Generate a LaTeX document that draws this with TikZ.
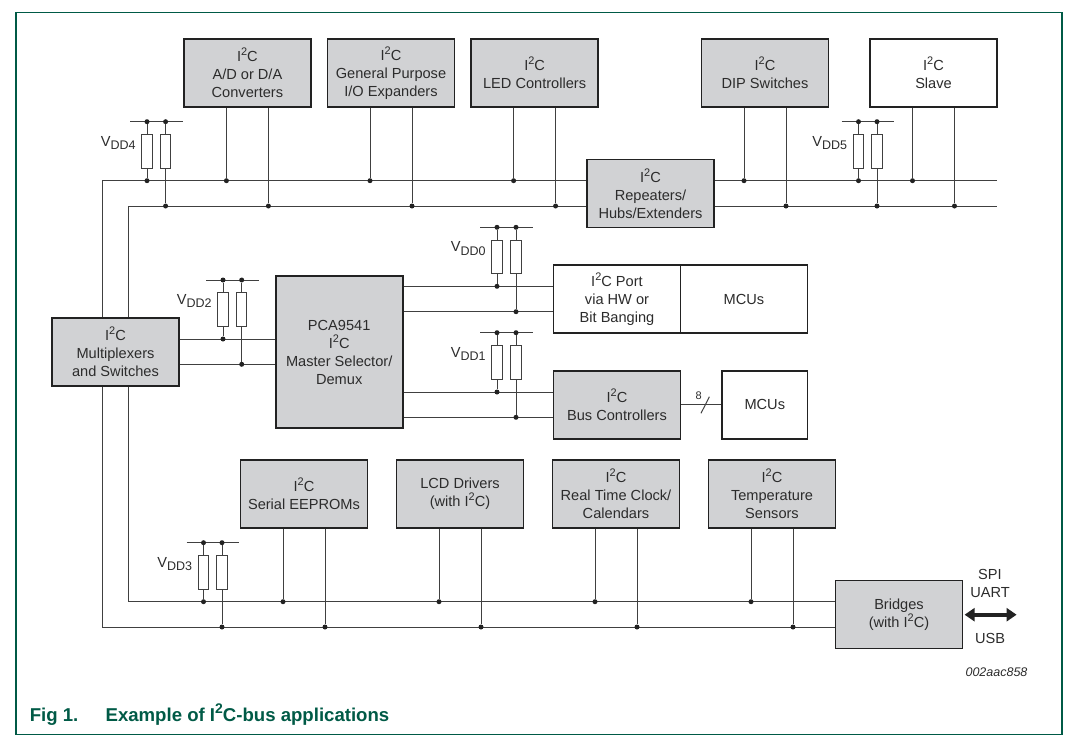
\documentclass[tikz,border=0pt]{standalone}
\usepackage{fontspec}
\setmainfont{Liberation Sans}
\usetikzlibrary{calc,arrows.meta}
\definecolor{nxpteal}{HTML}{005A46}
\definecolor{chipgray}{HTML}{D1D2D4}
\definecolor{inkdark}{HTML}{222222}
\definecolor{textdark}{HTML}{2C2C2C}
\definecolor{wiredark}{HTML}{404040}
\newcommand{\itwoc}{I\raisebox{.4em}{\scalebox{.75}{2}}C}
\newcommand{\vddlabel}[1]{V\raisebox{-3.5pt}{\fontsize{12.5}{12.5}\selectfont DD#1}}
\tikzset{
  chip/.style={draw=inkdark, line width=1.7pt, fill=chipgray, minimum width=127pt, minimum height=68pt,
    inner sep=0pt, align=center, text=textdark, font=\fontsize{14.6}{18}\selectfont},
  plainchip/.style={chip, fill=white},
  wire/.style={draw=wiredark, line width=1pt},
  pullres/.style={draw=wiredark, line width=1pt, fill=white, minimum width=10.3pt, minimum height=33.7pt, inner sep=0pt},
  junction/.style={circle, fill=inkdark, inner sep=0pt, minimum size=5pt},
  plaintext/.style={inner sep=0pt, text=textdark, font=\fontsize{14.6}{18}\selectfont}
}
\begin{document}
\begin{tikzpicture}[x=1pt,y=-1pt]
  \useasboundingbox (0,0) rectangle (1071,745);

  % Rahmen
  \draw[nxpteal, line width=1.2pt] (16,12.5) rectangle (1062,734.7);

  % Obere Reihe
  \node[chip] (adc) at (247.4,73) {\itwoc\\A/D or D/A\\Converters};
  \node[chip] (gpio) at (391,73) {\itwoc\\General Purpose\\I/O Expanders};
  \node[chip] (led) at (534.6,73) {\itwoc\\LED Controllers};
  \node[chip] (dip) at (765,73) {\itwoc\\DIP Switches};
  \node[plainchip] (slave) at (933.5,73) {\itwoc\\Slave};
  \node[chip] (rep) at (650.5,193.5) {\itwoc\\Repeaters/\\Hubs/Extenders};

  % Mitte
  \node[chip] (mux) at (115.5,351.8) {\itwoc\\Multiplexers\\and Switches};
  \node[chip, minimum height=152pt] (pca) at (339.2,352) {PCA9541\\\itwoc\\Master Selector/\\Demux};
  \node[plainchip] (port) at (617,299) {\itwoc{} Port\\via HW or\\Bit Banging};
  \node[plainchip] (mcua) at (744,299) {MCUs};
  \node[chip] (ctrl) at (617,404.8) {\itwoc\\Bus Controllers};
  \node[plainchip, minimum width=85.5pt] (mcub) at (764.8,404.8) {MCUs};

  % Untere Reihe
  \node[chip] (eeprom) at (304,494) {\itwoc\\Serial EEPROMs};
  \node[chip] (lcd) at (460,494) {LCD Drivers\\(with \itwoc)};
  \node[chip] (rtc) at (616,494) {\itwoc\\Real Time Clock/\\Calendars};
  \node[chip] (temp) at (772,494) {\itwoc\\Temperature\\Sensors};
  \node[chip] (bridge) at (899,614.5) {Bridges\\(with \itwoc)};

  % Busleitungen
  \coordinate (busA) at (102.6,180.7);
  \coordinate (busB) at (128,206);
  \coordinate (busC) at (128,601.7);
  \coordinate (busD) at (102.6,627);
  \coordinate (endA) at (997,180.7);
  \coordinate (endB) at (997,206);
  \draw[wire] (mux.north -| busA) -- (busA) -- (rep.west |- busA);
  \draw[wire] (mux.north -| busB) -- (busB) -- (rep.west |- busB);
  \draw[wire] (rep.east |- busA) -- (endA);
  \draw[wire] (rep.east |- busB) -- (endB);
  \draw[wire] (mux.south -| busC) -- (busC) -- (bridge.west |- busC);
  \draw[wire] (mux.south -| busD) -- (busD) -- (bridge.west |- busD);

  % Abzweige
  \foreach \chipname in {adc,gpio,led,dip,slave}{
    \coordinate (sda) at ($(\chipname.south)+(-21,0)$);
    \coordinate (scl) at ($(\chipname.south)+(21,0)$);
    \node[junction] (\chipname sda) at (sda |- busA) {};
    \node[junction] (\chipname scl) at (scl |- busB) {};
    \draw[wire] (sda) -- (\chipname sda);
    \draw[wire] (scl) -- (\chipname scl);
  }
  \foreach \chipname in {eeprom,lcd,rtc,temp}{
    \coordinate (sda) at ($(\chipname.south)+(-21,0)$);
    \coordinate (scl) at ($(\chipname.south)+(21,0)$);
    \node[junction] (\chipname sda) at (sda |- busC) {};
    \node[junction] (\chipname scl) at (scl |- busD) {};
    \draw[wire] (sda) -- (\chipname sda);
    \draw[wire] (scl) -- (\chipname scl);
  }

  % Verbindungen zwischen den Bausteinen
  \draw[wire] (mux.east |- 0,339) -- (pca.west |- 0,339);
  \draw[wire] (mux.east |- 0,364.3) -- (pca.west |- 0,364.3);
  \draw[wire] (pca.east |- 0,286.3) -- (port.west |- 0,286.3);
  \draw[wire] (pca.east |- 0,311.7) -- (port.west |- 0,311.7);
  \draw[wire] (pca.east |- 0,392) -- (ctrl.west |- 0,392);
  \draw[wire] (pca.east |- 0,417.3) -- (ctrl.west |- 0,417.3);
  \draw[wire] (ctrl.east) -- (mcub.west);

  % Pull-up Widerstaende
  \foreach \nm/\xa/\xb/\ytop/\ysda/\yscl in {4/147/165.6/121.7/180.7/206, 5/858.5/877/121.7/180.7/206,
      0/497/516/227.3/286.3/311.7, 1/497/516/332.7/392/417.3,
      2/223/241.7/280/339/364.3, 3/203.5/222/542.7/601.7/627}{
    \coordinate (rail\nm l) at (\xa-17,\ytop);
    \coordinate (rail\nm r) at (\xb+17,\ytop);
    \draw[wire] (rail\nm l) -- (rail\nm r);
    \node[junction] (top\nm a) at (\xa,\ytop) {};
    \node[junction] (top\nm b) at (\xb,\ytop) {};
    \node[junction] (low\nm a) at (\xa,\ysda) {};
    \node[junction] (low\nm b) at (\xb,\yscl) {};
    \draw[wire] (top\nm a) -- (low\nm a);
    \draw[wire] (top\nm b) -- (low\nm b);
    \node[pullres] (res\nm a) at (\xa,\ytop+29.6) {};
    \node[pullres] (res\nm b) at (\xb,\ytop+29.6) {};
    \node[plaintext, anchor=base east] (vdd\nm) at ($(res\nm a.west)+(-5.5,-5.3)$) {\vddlabel{\nm}};
  }

  % Schnittstellen
  \coordinate (arrowl) at (964.6,614.7);
  \coordinate (arrowr) at (1016.6,614.7);
  \draw[{Triangle[length=10pt,width=13pt]}-{Triangle[length=10pt,width=13pt]}, inkdark, line width=4pt] (arrowl) -- (arrowr);
  \node[plaintext] (spi) at (990,574) {SPI};
  \node[plaintext] (uart) at (990,592.7) {UART};
  \node[plaintext] (usb) at (990,638) {USB};

  % 8 Bit
  \coordinate (slasha) at (701,413.3);
  \coordinate (slashb) at (709.4,396.7);
  \draw[wire] (slasha) -- (slashb);
  \node[plaintext, font=\fontsize{11}{11}\selectfont] (eight) at (698.7,395.5) {8};

  % Beschriftung
  \node[plaintext, font=\itshape\fontsize{12.5}{12.5}\selectfont] (code) at (996.5,672) {002aac858};
  \node[inner sep=0pt, anchor=base west, text=nxpteal, font=\bfseries\fontsize{18.6}{18.6}\selectfont] (figno) at (29.6,721) {Fig 1.};
  \node[inner sep=0pt, anchor=base west, text=nxpteal, font=\bfseries\fontsize{18.6}{18.6}\selectfont] (figtitle) at (105.4,721) {Example of \itwoc-bus applications};
\end{tikzpicture}
\end{document}
